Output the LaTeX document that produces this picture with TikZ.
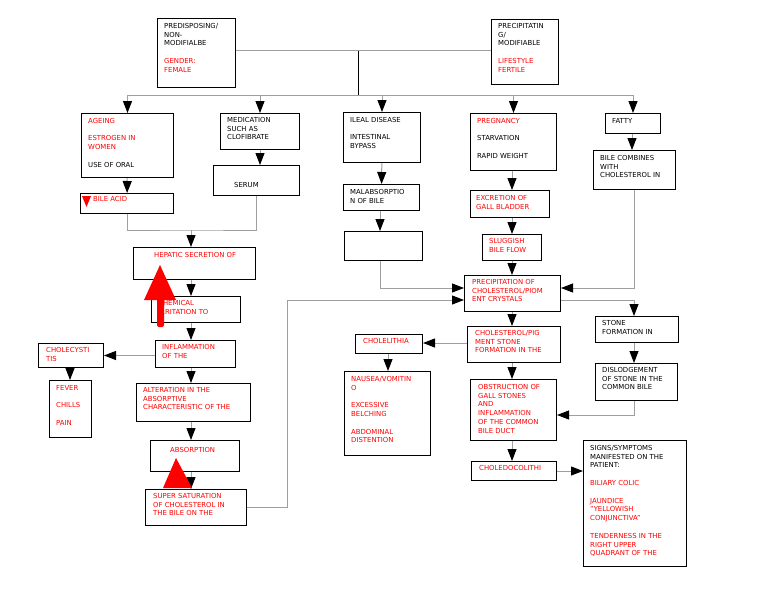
\documentclass[tikz,border=0pt]{standalone}
\usepackage{fontspec}
\setmainfont{DejaVu Sans}
\usetikzlibrary{arrows.meta, calc}
\newcommand{\rd}[1]{\textcolor{red}{#1}}
\begin{document}
\begin{tikzpicture}[
        x=1pt, y=-1pt,
        box/.style={draw, line width=1pt, fill=white, anchor=north west, inner sep=0pt},
        txt/.style={anchor=north west, align=left, inner sep=0pt, font=\fontsize{6.9}{8.8}\selectfont},
        link/.style={draw=gray!75, line width=1pt},
        arr/.style={link, -{Triangle[color=black, width=9pt, length=12pt]}},
        warn/.style={fill=red, draw=none}
    ]
    \useasboundingbox (0,0) rectangle (768,594);

    % Boxes
    \node[box, minimum width=78, minimum height=69] (pre) at (157,18) {};
    \node[box, minimum width=67, minimum height=65] (prec) at (491,19) {};
    \node[box, minimum width=92, minimum height=64] (ageing) at (81,113) {};
    \node[box, minimum width=79, minimum height=36] (med) at (220,113) {};
    \node[box, minimum width=86, minimum height=30] (serum) at (213,165) {};
    \node[box, minimum width=77, minimum height=50] (ileal) at (343,112) {};
    \node[box, minimum width=86, minimum height=57] (preg) at (470,113) {};
    \node[box, minimum width=55, minimum height=20] (fatty) at (605,113) {};
    \node[box, minimum width=82, minimum height=39] (bilecomb) at (593,150) {};
    \node[box, minimum width=93, minimum height=20] (bileacid) at (80,193) {};
    \node[box, minimum width=76, minimum height=26] (malab) at (343,184) {};
    \node[box, minimum width=78, minimum height=29] (blank) at (344,231) {};
    \node[box, minimum width=79, minimum height=27] (excr) at (470,190) {};
    \node[box, minimum width=59, minimum height=26] (slug) at (482,234) {};
    \node[box, minimum width=96, minimum height=36] (crystal) at (464,275) {};
    \node[box, minimum width=122, minimum height=32] (hepatic) at (133,247) {};
    \node[box, minimum width=89, minimum height=26] (chem) at (151,296) {};
    \node[box, minimum width=80, minimum height=27] (inflam) at (155,340) {};
    \node[box, minimum width=65, minimum height=24] (cholecys) at (38,343) {};
    \node[box, minimum width=42, minimum height=57] (fever) at (49,380) {};
    \node[box, minimum width=114, minimum height=38] (alter) at (136,383) {};
    \node[box, minimum width=89, minimum height=31] (absorp) at (150,440) {};
    \node[box, minimum width=101, minimum height=36] (supersat) at (145,489) {};
    \node[box, minimum width=83, minimum height=26] (stoneform) at (595,316) {};
    \node[box, minimum width=82, minimum height=37] (dislodge) at (595,363) {};
    \node[box, minimum width=93, minimum height=36] (pigstone) at (467,326) {};
    \node[box, minimum width=67, minimum height=19] (cholelith) at (355,334) {};
    \node[box, minimum width=86, minimum height=84] (nausea) at (344,371) {};
    \node[box, minimum width=86, minimum height=61] (obstr) at (470,379) {};
    \node[box, minimum width=85, minimum height=19] (choledoco) at (471,461) {};
    \node[box, minimum width=103, minimum height=126] (signs) at (583,440) {};

    % Texts
    \node[txt] at ([shift={(7,5)}]pre.north west) {PREDISPOSING/\\NON-\\MODIFIALBE\\[8.8pt]\rd{GENDER:}\\\rd{FEMALE}};
    \node[txt] at ([shift={(7,4)}]prec.north west) {PRECIPITATIN\\G/\\MODIFIABLE\\[8.8pt]\rd{LIFESTYLE}\\\rd{FERTILE}};
    \node[txt] at ([shift={(7,5)}]ageing.north west) {\rd{AGEING}\\[8.8pt]\rd{ESTROGEN IN}\\\rd{WOMEN}\\[8.8pt]USE OF ORAL};
    \node[txt] at ([shift={(7,4)}]med.north west) {MEDICATION\\SUCH AS\\CLOFIBRATE};
    \node[txt] at ([shift={(21,17)}]serum.north west) {SERUM};
    \node[txt] at ([shift={(7,5)}]ileal.north west) {ILEAL DISEASE\\[8.8pt]INTESTINAL\\BYPASS};
    \node[txt] at ([shift={(7,5)}]preg.north west) {\rd{PREGNANCY}\\[8.8pt]STARVATION\\[8.8pt]RAPID WEIGHT};
    \node[txt] at ([shift={(7,5)}]fatty.north west) {FATTY};
    \node[txt] at ([shift={(7,5)}]bilecomb.north west) {BILE COMBINES\\WITH\\CHOLESTEROL IN};
    \node[txt] at ([shift={(13,3)}]bileacid.north west) {\rd{BILE ACID}};
    \node[txt] at ([shift={(7,5)}]malab.north west) {MALABSORPTIO\\N OF BILE};
    \node[txt] at ([shift={(6,5)}]excr.north west) {\rd{EXCRETION OF}\\\rd{GALL BLADDER}};
    \node[txt] at ([shift={(7,4)}]slug.north west) {\rd{SLUGGISH}\\\rd{BILE FLOW}};
    \node[txt] at ([shift={(8,4)}]crystal.north west) {\rd{PRECIPITATION OF}\\\rd{CHOLESTEROL/PIOM}\\\rd{ENT CRYSTALS}};
    \node[txt] at ([shift={(21,5)}]hepatic.north west) {\rd{HEPATIC SECRETION OF}};
    \node[txt] at ([shift={(7,4)}]chem.north west) {\rd{CHEMICAL}\\\rd{IRRITATION TO}};
    \node[txt] at ([shift={(7,4)}]inflam.north west) {\rd{INFLAMMATION}\\\rd{OF THE}};
    \node[txt] at ([shift={(8,4)}]cholecys.north west) {\rd{CHOLECYSTI}\\\rd{TIS}};
    \node[txt] at ([shift={(7,5)}]fever.north west) {\rd{FEVER}\\[8.8pt]\rd{CHILLS}\\[8.8pt]\rd{PAIN}};
    \node[txt] at ([shift={(7,4)}]alter.north west) {\rd{ALTERATION IN THE}\\\rd{ABSORPTIVE}\\\rd{CHARACTERISTIC OF THE}};
    \node[txt] at ([shift={(20,7)}]absorp.north west) {\rd{ABSORPTION}};
    \node[txt] at ([shift={(8,4)}]supersat.north west) {\rd{SUPER SATURATION}\\\rd{OF CHOLESTEROL IN}\\\rd{THE BILE ON THE}};
    \node[txt] at ([shift={(7,4)}]stoneform.north west) {STONE\\FORMATION IN};
    \node[txt] at ([shift={(7,4)}]dislodge.north west) {DISLODGEMENT\\OF STONE IN THE\\COMMON BILE};
    \node[txt] at ([shift={(8,4)}]pigstone.north west) {\rd{CHOLESTEROL/PIG}\\\rd{MENT STONE}\\\rd{FORMATION IN THE}};
    \node[txt] at ([shift={(8,4)}]cholelith.north west) {\rd{CHOLELITHIA}};
    \node[txt] at ([shift={(7,5)}]nausea.north west) {\rd{NAUSEA/VOMITIN}\\\rd{O}\\[8.8pt]\rd{EXCESSIVE}\\\rd{BELCHING}\\[8.8pt]\rd{ABDOMINAL}\\\rd{DISTENTION}};
    \node[txt] at ([shift={(8,5)}]obstr.north west) {\rd{OBSTRUCTION OF}\\\rd{GALL STONES}\\\rd{AND}\\\rd{INFLAMMATION}\\\rd{OF THE COMMON}\\\rd{BILE DUCT}};
    \node[txt] at ([shift={(8,4)}]choledoco.north west) {\rd{CHOLEDOCOLITHI}};
    \node[txt] at ([shift={(7,5)}]signs.north west) {SIGNS/SYMPTOMS\\MANIFESTED ON THE\\PATIENT:\\[8.8pt]\rd{BILIARY COLIC}\\[8.8pt]\rd{JAUNDICE}\\\rd{"YELLOWISH}\\\rd{CONJUNCTIVA"}\\[8.8pt]\rd{TENDERNESS IN THE}\\\rd{RIGHT UPPER}\\\rd{QUADRANT OF THE}};

    % Top bus
    \coordinate (bus) at (358,95);
    \coordinate (top) at (358,51);
    \coordinate (c70) at (70,0);
    \coordinate (c287) at (287,300);
    \coordinate (c380) at (380,0);
    \coordinate (c388) at (388,0);
    \coordinate (c512) at (512,0);
    \coordinate (c632) at (632,0);
    \coordinate (c634) at (634,0);
    \coordinate (r288) at (0,288);
    \coordinate (r300) at (0,300);
    \coordinate (r343) at (0,343);
    \coordinate (r415) at (0,415);
    \coordinate (r471) at (0,471);
    \draw[link] (pre.east |- top) -- (prec.west |- top);
    \draw[line width=1pt] (top) -- (bus);
    \draw[link] (ageing.north |- bus) -- (fatty.north |- bus);
    \foreach \n in {ageing, med, ileal, preg, fatty}
        \draw[arr] (\n.north |- bus) -- (\n.north);

    % Arrows
    \draw[arr] (ageing) -- (bileacid);
    \draw[arr] (med.south) -- (med.south |- serum.north);
    \coordinate (join) at (191,230);
    \draw[link] (bileacid.south) |- (join) -| (serum.south);
    \draw[arr] (join) -- (hepatic.north -| join);
    \draw[arr] (hepatic.south -| join) -- (chem.north -| join);
    \draw[arr] (chem.south -| join) -- (inflam.north -| join);
    \draw[arr] (inflam.west |- cholecys.east) -- (cholecys.east);
    \draw[arr] (cholecys.south -| c70) -- (fever.north -| c70);
    \draw[arr] (inflam.south -| join) -- (alter.north -| join);
    \draw[arr] (alter.south -| join) -- (absorp.north -| join);
    \draw[arr] (absorp.south -| join) -- (supersat.north -| join);
    \draw[link] (supersat.east) -| (c287);
    \draw[arr] (c287) -- (crystal.west |- r300);
    \draw[arr] (ileal) -- (malab);
    \draw[arr] (malab.south -| c380) -- (blank.north -| c380);
    \draw[arr] (blank.south -| c380) |- (crystal.west |- r288);
    \draw[arr] (preg.south -| c512) -- (excr.north -| c512);
    \draw[arr] (excr.south -| c512) -- (slug.north -| c512);
    \draw[arr] (slug.south -| c512) -- (crystal.north -| c512);
    \draw[arr] (fatty.south -| c632) -- (bilecomb.north -| c632);
    \draw[arr] (bilecomb.south -| c634) |- (crystal.east |- r288);
    \draw[arr] (crystal.east |- r300) -| (stoneform.north -| c634);
    \draw[arr] (stoneform.south -| c634) -- (dislodge.north -| c634);
    \draw[arr] (dislodge.south -| c634) |- (obstr.east |- r415);
    \draw[arr] (crystal.south -| c512) -- (pigstone.north -| c512);
    \draw[arr] (pigstone.west |- r343) -- (cholelith.east |- r343);
    \draw[arr] (cholelith.south -| c388) -- (nausea.north -| c388);
    \draw[arr] (pigstone.south -| c512) -- (obstr.north -| c512);
    \draw[arr] (obstr.south -| c512) -- (choledoco.north -| c512);
    \draw[arr] (choledoco.east |- r471) -- (signs.west |- r471);

    % Red marks
    \fill[warn] (82,196) -- (91,196) -- (86.5,207) -- cycle;
    \fill[warn] (144,300) -- (176,300) -- (160,265) -- cycle;
    \fill[warn, rounded corners=2pt] (157,298) rectangle (164,327);
    \fill[warn] (163,488) -- (192,488) -- (176,458) -- cycle;
\end{tikzpicture}
\end{document}
